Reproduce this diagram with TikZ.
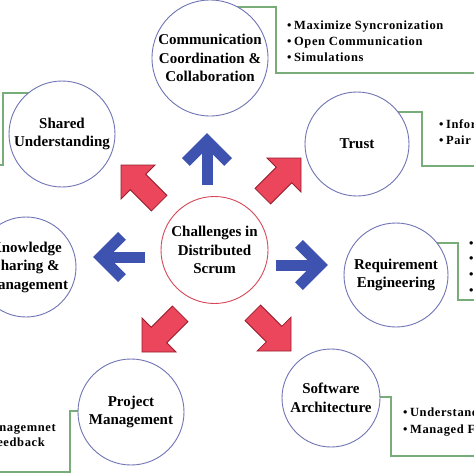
\documentclass[tikz,border=0pt]{standalone}
\usepackage{fontspec}
\setmainfont{Liberation Serif}
\newfontfamily\bulfam[LetterSpace=5]{Liberation Serif}
\usetikzlibrary{backgrounds}
\definecolor{circblue}{RGB}{112,116,180}
\definecolor{circred}{RGB}{214,72,88}
\definecolor{brgreen}{RGB}{120,172,120}
\definecolor{arrblue}{RGB}{62,82,176}
\definecolor{arrred}{RGB}{236,70,92}
\definecolor{arrredline}{RGB}{150,30,45}
\begin{document}
\begin{tikzpicture}[x=1pt,y=-1pt,
  outer/.style={circle,draw=circblue,line width=0.9pt,fill=white,inner sep=0pt,align=center,
    font=\fontsize{15}{18.5}\selectfont\bfseries},
  hub/.style={outer,draw=circred},
  bracket/.style={draw=brgreen,line width=1.1pt},
  bul/.style={anchor=base west,inner sep=0pt,font=\bulfam\bfseries\fontsize{12.5}{15}\selectfont},
  bulr/.style={bul,anchor=base east},
  bluestroke/.style={draw=arrblue,line width=11pt},
  redblock/.style={fill=arrred,draw=arrredline,line width=0.8pt,line join=miter},
  blarrow/.pic={\draw[bluestroke,line join=miter] (-29,21.2) -- (-7.8,0) -- (-29,-21.2);
                \draw[bluestroke] (-10,0) -- (-52,0);},
  rdarrow/.pic={\draw[redblock] (0,0) -- (-24,24) -- (-24,11) -- (-54,11) -- (-54,-11) -- (-24,-11) -- (-24,-24) -- cycle;}
]
\useasboundingbox (0,0) rectangle (474,474);

% circles
\node[outer,minimum size=116pt] (ccc) at (210,58) {Communication\\Coordination \&\\Collaboration};
\node[outer,minimum size=106pt] (su) at (62,134) {Shared\\Understanding};
\node[outer,minimum size=104pt] (tr) at (357,144) {Trust};
\node[outer,minimum size=104pt] (re) at (396,275) {Requirement\\Engineering};
\node[outer,minimum size=100pt] (ks) at (26,267) {Knowledge\\Sharing \&\\Management};
\node[outer,minimum size=106pt] (pm) at (131,412) {Project\\Management};
\node[outer,minimum size=98pt] (sa) at (331,398) {Software\\Architecture};
\node[hub,minimum size=107pt] (hub) at (214.5,250) {Challenges in\\Distributed\\Scrum};

% brackets
\begin{scope}[on background layer]
\fill[white] (0,0) rectangle (474,474);
\draw[bracket] (ccc.center |- 0,7) -- (276,7) -- (276,73) -- (474,73);
\draw[bracket] (su.center |- 0,93) -- (3,93) -- (3,165) -- (0,165);
\draw[bracket] (tr.center |- 0,112) -- (422,112) -- (422,166) -- (474,166);
\draw[bracket] (re.center |- 0,243) -- (458,243) -- (458,300) -- (474,300);
\draw[bracket] (sa.center |- 0,397) -- (391,397) -- (391,456) -- (474,456);
\draw[bracket] (pm.center |- 0,411) -- (70,411) -- (70,472) -- (0,472);
\end{scope}

% arrows
\pic[rotate=90] at (207,133) {blarrow};
\pic[rotate=180] at (93,257) {blarrow};
\pic at (328,265) {blarrow};
\pic[rotate=135] at (121,165) {rdarrow};
\pic[rotate=45] at (301,158) {rdarrow};
\pic[rotate=225] at (142,352) {rdarrow};
\pic[rotate=315] at (291,351) {rdarrow};

% bullet lists
\node[bul] (cb1) at (287,29.5) {\textbullet\hspace{2.5pt}Maximize Syncronization};
\node[bul] (cb2) at (287,45.5) {\textbullet\hspace{2.5pt}Open Communication};
\node[bul] (cb3) at (287,61.5) {\textbullet\hspace{2.5pt}Simulations};
\node[bul] (tb1) at (439,128.5) {\textbullet\hspace{2.5pt}Information};
\node[bul] (tb2) at (439,144.5) {\textbullet\hspace{2.5pt}Pair};
\node[bul] (rb1) at (469,247) {\textbullet};
\node[bul] (rb2) at (469,262.5) {\textbullet};
\node[bul] (rb3) at (469,278) {\textbullet};
\node[bul] (rb4) at (469,294) {\textbullet};
\node[bul] (sb1) at (403,416.5) {\textbullet\hspace{2.5pt}Understanding};
\node[bul] (sb2) at (403,433.5) {\textbullet\hspace{2.5pt}Managed F};
\node[bulr] (pb1) at (56,431.5) {\textbullet\hspace{2.5pt}Managemnet};
\node[bulr] (pb2) at (45,446.5) {\textbullet\hspace{2.5pt}Feedback};
\end{tikzpicture}
\end{document}
